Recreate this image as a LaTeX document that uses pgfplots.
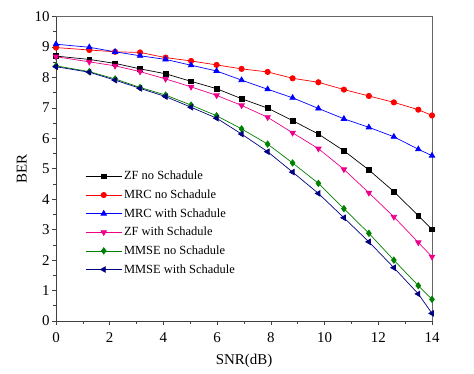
\documentclass[border=0pt]{standalone}
\usepackage{fontspec}
\setmainfont{Liberation Serif}
\usepackage{pgfplots}
\pgfplotsset{compat=1.18}
\definecolor{cgreen}{RGB}{0,128,0}
\definecolor{cnavy}{RGB}{0,0,128}
\begin{document}
\begin{tikzpicture}
\path[use as bounding box] (-56bp,-53bp) rectangle (418bp,321bp);
\begin{axis}[
  at={(0,0)}, anchor=south west,
  scale only axis, width=376bp, height=304.5bp,
  xmin=0, xmax=14, ymin=0, ymax=10,
  xtick={0,2,...,14}, ytick={0,1,...,10},
  minor x tick num=1, minor y tick num=1,
  axis x line*=bottom, axis y line*=left,
  axis line style={-, line width=0.8pt, black!75},
  tick align=outside,
  major tick length=4bp, minor tick length=2.5bp,
  tick style={black!75, line width=0.6pt},
  /pgf/number format/assume math mode=true,
  tick label style={font=\fontsize{15}{17}\selectfont},
  label style={font=\fontsize{15}{17}\selectfont},
  xticklabel style={yshift=-4bp},
  yticklabel style={xshift=1bp},
  xlabel={SNR(dB)}, ylabel={BER},
  xlabel style={yshift=-5bp},
  ylabel style={yshift=1bp},
  legend style={draw=none, fill=none, at={(0.075,0.502)}, anchor=north west,
    font=\fontsize{12.5}{14}\selectfont, row sep=4.5bp, inner sep=1pt},
  legend cell align=left,
  legend image code/.code={\draw[mark repeat=2,mark phase=2] plot coordinates {(0bp,0bp) (18bp,0bp) (36bp,0bp)};},
  every axis plot/.append style={line width=0.7pt, mark size=2.6pt},
  clip=false,
]
\draw[black!60, line width=0.6pt] (rel axis cs:0,1) -- (rel axis cs:1,1) -- (rel axis cs:1,0);
\addplot[black, mark=square*, mark size=2.4pt] coordinates {
(0,8.70) (1.24,8.59) (2.2,8.46) (3.13,8.28) (4.08,8.12) (5.03,7.87) (5.98,7.63) (6.91,7.30)
(7.88,6.99) (8.81,6.58) (9.77,6.14) (10.72,5.59) (11.65,4.96) (12.58,4.25) (13.49,3.46) (14,3.01)};
\addlegendentry{ZF no Schadule}
\addplot[red, mark=*, mark size=2.7pt] coordinates {
(0,8.98) (1.24,8.90) (2.2,8.84) (3.13,8.82) (4.08,8.65) (5.03,8.54) (5.98,8.41) (6.91,8.28)
(7.88,8.18) (8.81,7.97) (9.77,7.84) (10.72,7.60) (11.65,7.39) (12.58,7.18) (13.49,6.94) (14,6.75)};
\addlegendentry{MRC no Schadule}
\addplot[blue, mark=triangle*, mark size=3.2pt] coordinates {
(0,9.09) (1.24,8.99) (2.2,8.84) (3.13,8.71) (4.08,8.59) (5.03,8.40) (5.98,8.21) (6.91,7.91)
(7.88,7.61) (8.81,7.33) (9.77,6.98) (10.72,6.64) (11.65,6.36) (12.58,6.05) (13.49,5.64) (14,5.43)};
\addlegendentry{MRC with Schadule}
\addplot[magenta, mark=triangle*, mark size=3.2pt, mark options={rotate=180}] coordinates {
(0,8.68) (1.24,8.51) (2.2,8.38) (3.13,8.19) (4.08,7.95) (5.03,7.69) (5.98,7.41) (6.91,7.08)
(7.88,6.69) (8.81,6.18) (9.77,5.66) (10.72,4.98) (11.65,4.21) (12.58,3.42) (13.49,2.58) (14,2.11)};
\addlegendentry{ZF with Schadule}
\addplot[cgreen, mark=diamond*, mark size=3.2pt] coordinates {
(0,8.38) (1.24,8.19) (2.2,7.95) (3.13,7.67) (4.08,7.42) (5.03,7.09) (5.98,6.74) (6.91,6.31)
(7.88,5.81) (8.81,5.19) (9.77,4.52) (10.72,3.69) (11.65,2.88) (12.58,2.00) (13.49,1.16) (14,0.71)};
\addlegendentry{MMSE no Schadule}
\addplot[cnavy, mark=triangle*, mark size=3.2pt, mark options={rotate=90}] coordinates {
(0,8.35) (1.24,8.17) (2.2,7.91) (3.13,7.64) (4.08,7.37) (5.03,7.02) (5.98,6.66) (6.91,6.14)
(7.88,5.56) (8.81,4.89) (9.77,4.19) (10.72,3.39) (11.65,2.60) (12.58,1.75) (13.49,0.89) (14,0.25)};
\addlegendentry{MMSE with Schadule}
\end{axis}
\end{tikzpicture}
\end{document}
